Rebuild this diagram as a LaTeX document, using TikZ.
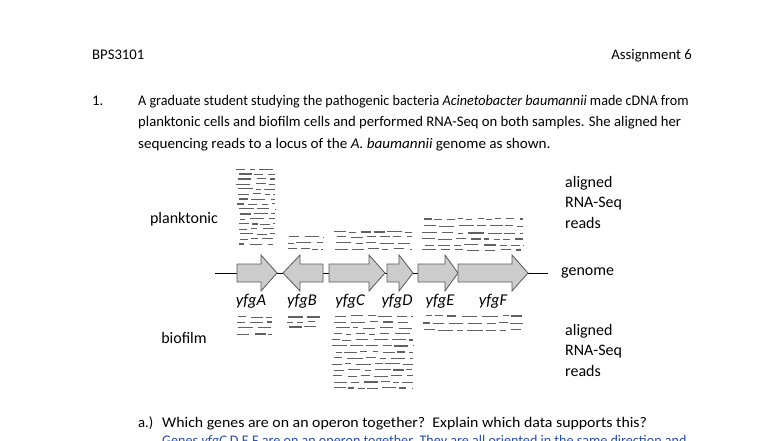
\documentclass[tikz,border=0pt]{standalone}
\usepackage{fontspec}
\setmainfont{Carlito}
\usetikzlibrary{positioning}
\definecolor{ansblue}{RGB}{40,80,170}
\tikzset{
  read/.style={line width=1.2pt,draw=black!62},
  gene/.style={draw=black!65,fill=black!20,line width=0.8pt},
  txt/.style={font=\fontsize{14.7}{21}\selectfont,anchor=base west,inner sep=0pt},
  lab/.style={font=\fontsize{16}{20.5}\selectfont,inner sep=0pt},
  glab/.style={font=\fontsize{16.5}{20}\selectfont\itshape,anchor=base,inner sep=0pt},
}
\newcommand{\readrow}[3]{%
  \pgfmathsetmacro{\startx}{#1+rnd*4}
  \xdef\curx{\startx}
  \foreach \k in {1,...,14}{
    \ifdim \curx pt<#2pt
      \pgfmathsetmacro{\xb}{min(\curx+5+rnd*11,#2)}
      \pgfmathsetmacro{\yr}{#3+(rnd-0.5)*1.6}
      \draw[read] (\curx,\yr) -- (\xb,\yr);
      \pgfmathsetmacro{\nextx}{\xb+2+rnd*4}
      \xdef\curx{\nextx}
    \fi
  }}
\newcommand{\genearrow}[3]{%
  \draw[gene] (#1,264) -- (#2,264) -- (#2,255) -- (#3,273) -- (#2,291)
    -- (#2,282) -- (#1,282) -- cycle;}
\begin{document}
\begin{tikzpicture}[x=1pt,y=-1pt]
\useasboundingbox (0,0) rectangle (784,441);
\clip (0,0) rectangle (784,441);
\pgfmathsetseed{23}
\node[txt] (course) at (92,60) {BPS3101};
\node[txt,anchor=base east] (assign) at (692,60) {Assignment 6};
\node[txt] (qnum) at (92,106) {1.};
\node[txt] (q1) at (138,106) {\scalebox{0.962}[1]{A graduate student studying the pathogenic bacteria \textit{Acinetobacter baumannii} made cDNA from}};
\node[txt] (q2) at (138,127) {planktonic cells and biofilm cells and performed RNA-Seq on both samples. She aligned her};
\node[txt] (q3) at (138,148) {\scalebox{1.03}[1]{sequencing reads to a locus of the \textit{A. baumannii} genome as shown.}};
\node[lab] (plank) at (184,219) {planktonic};
\node[lab] (bio) at (184,338) {biofilm};
\node[lab,align=left,anchor=north west] (topreads) at (565,176) {aligned\\RNA-Seq\\reads};
\node[lab,align=left,anchor=north west] (botreads) at (565,324) {aligned\\RNA-Seq\\reads};
\coordinate (gl) at (215,273);
\coordinate (gr) at (548,273);
\node[lab,anchor=base west] (genome) at (561,275) {genome};
\draw[line width=0.8pt] (gl) -- (gr);
\genearrow{237}{261}{277}
\genearrow{323}{300}{283}
\genearrow{329}{369}{385}
\genearrow{387}{399}{413}
\genearrow{418}{445}{458}
\genearrow{458}{512}{528}
\node[glab] (ga) at (251,305) {yfgA};
\node[glab] (gb) at (302,305) {yfgB};
\node[glab] (gc) at (350,305) {yfgC};
\node[glab] (gd) at (397,305) {yfgD};
\node[glab] (ge) at (440,305) {yfgE};
\node[glab] (gf) at (493,305) {yfgF};
\foreach \y in {169,174,...,248} {\readrow{236}{275}{\y}}
\foreach \y in {237,243,249} {\readrow{285}{323}{\y}}
\foreach \y in {232,237,243,249} {\readrow{333}{412}{\y}}
\foreach \y in {219,226,233,239,245,250} {\readrow{422}{523}{\y}}
\foreach \y in {317,322,328,334} {\readrow{236}{272}{\y}}
\foreach \y in {317,322,327} {\readrow{287}{320}{\y}}
\foreach \y in {316,322,...,390} {\readrow{332}{413}{\y}}
\foreach \y in {316,323,330} {\readrow{422}{523}{\y}}
\node[txt] (pa) at (138,427) {a.)};
\node[txt] (qa) at (162,427) {\scalebox{1.078}[1]{Which genes are on an operon together?\ \ Explain which data supports this?}};
\node[txt,text=ansblue] (ans) at (162,445) {\scalebox{0.96}[1]{Genes \textit{yfgC},D,E,F are on an operon together. They are all oriented in the same direction and}};
\end{tikzpicture}
\end{document}
